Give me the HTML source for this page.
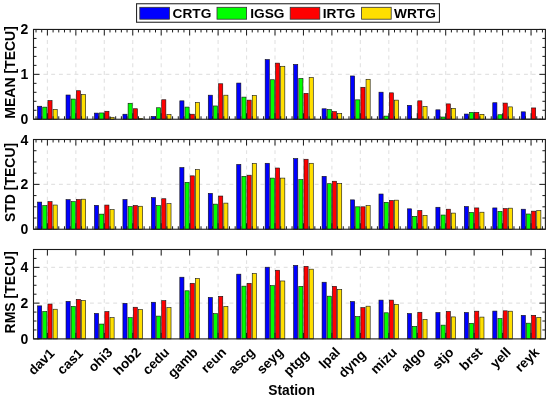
<!DOCTYPE html>
<html><head><meta charset="utf-8"><style>html,body{margin:0;padding:0;background:#fff;overflow:hidden;}svg{display:block;}</style></head>
<body>
<svg width="550" height="401" viewBox="0 0 550 401">
<rect width="550" height="401" fill="#fff"/>
<path d="M47.40,29.45V119.25M75.85,29.45V119.25M104.30,29.45V119.25M132.75,29.45V119.25M161.20,29.45V119.25M189.65,29.45V119.25M218.10,29.45V119.25M246.55,29.45V119.25M275.00,29.45V119.25M303.45,29.45V119.25M331.90,29.45V119.25M360.35,29.45V119.25M388.80,29.45V119.25M417.25,29.45V119.25M445.70,29.45V119.25M474.15,29.45V119.25M502.60,29.45V119.25M531.05,29.45V119.25" stroke="#e3e3e3" stroke-width="1.15" stroke-dasharray="3.9,3.85" stroke-dashoffset="4.85" fill="none"/>
<path d="M33.50,74.35H545.40" stroke="#e3e3e3" stroke-width="1.15" stroke-dasharray="3.9,3.85" stroke-dashoffset="5.55" fill="none"/>
<rect x="37.57" y="106.23" width="4.14" height="13.02" fill="#0000ff" stroke="#111" stroke-width="0.6"/>
<rect x="42.74" y="107.13" width="4.14" height="12.12" fill="#00ff00" stroke="#111" stroke-width="0.6"/>
<rect x="47.92" y="100.57" width="4.14" height="18.68" fill="#ff0000" stroke="#111" stroke-width="0.6"/>
<rect x="53.09" y="109.37" width="4.14" height="9.88" fill="#ffdf00" stroke="#111" stroke-width="0.6"/>
<rect x="66.02" y="95.00" width="4.14" height="24.25" fill="#0000ff" stroke="#111" stroke-width="0.6"/>
<rect x="71.19" y="99.05" width="4.14" height="20.20" fill="#00ff00" stroke="#111" stroke-width="0.6"/>
<rect x="76.37" y="90.74" width="4.14" height="28.51" fill="#ff0000" stroke="#111" stroke-width="0.6"/>
<rect x="81.54" y="94.56" width="4.14" height="24.69" fill="#ffdf00" stroke="#111" stroke-width="0.6"/>
<rect x="94.47" y="113.10" width="4.14" height="6.15" fill="#0000ff" stroke="#111" stroke-width="0.6"/>
<rect x="99.64" y="112.96" width="4.14" height="6.29" fill="#00ff00" stroke="#111" stroke-width="0.6"/>
<rect x="104.82" y="111.26" width="4.14" height="7.99" fill="#ff0000" stroke="#111" stroke-width="0.6"/>
<rect x="109.99" y="117.27" width="4.14" height="1.98" fill="#ffdf00" stroke="#111" stroke-width="0.6"/>
<rect x="122.92" y="114.22" width="4.14" height="5.03" fill="#0000ff" stroke="#111" stroke-width="0.6"/>
<rect x="128.09" y="103.27" width="4.14" height="15.98" fill="#00ff00" stroke="#111" stroke-width="0.6"/>
<rect x="133.27" y="108.74" width="4.14" height="10.51" fill="#ff0000" stroke="#111" stroke-width="0.6"/>
<rect x="138.44" y="118.35" width="4.14" height="0.90" fill="#ffdf00" stroke="#111" stroke-width="0.6"/>
<rect x="151.37" y="116.42" width="4.14" height="2.83" fill="#0000ff" stroke="#111" stroke-width="0.6"/>
<rect x="156.54" y="107.76" width="4.14" height="11.49" fill="#00ff00" stroke="#111" stroke-width="0.6"/>
<rect x="161.72" y="99.76" width="4.14" height="19.49" fill="#ff0000" stroke="#111" stroke-width="0.6"/>
<rect x="166.89" y="114.54" width="4.14" height="4.71" fill="#ffdf00" stroke="#111" stroke-width="0.6"/>
<rect x="179.82" y="100.84" width="4.14" height="18.41" fill="#0000ff" stroke="#111" stroke-width="0.6"/>
<rect x="184.99" y="107.08" width="4.14" height="12.17" fill="#00ff00" stroke="#111" stroke-width="0.6"/>
<rect x="190.17" y="114.22" width="4.14" height="5.03" fill="#ff0000" stroke="#111" stroke-width="0.6"/>
<rect x="195.34" y="102.50" width="4.14" height="16.75" fill="#ffdf00" stroke="#111" stroke-width="0.6"/>
<rect x="208.27" y="95.18" width="4.14" height="24.07" fill="#0000ff" stroke="#111" stroke-width="0.6"/>
<rect x="213.44" y="105.96" width="4.14" height="13.29" fill="#00ff00" stroke="#111" stroke-width="0.6"/>
<rect x="218.62" y="83.78" width="4.14" height="35.47" fill="#ff0000" stroke="#111" stroke-width="0.6"/>
<rect x="223.79" y="95.18" width="4.14" height="24.07" fill="#ffdf00" stroke="#111" stroke-width="0.6"/>
<rect x="236.72" y="83.06" width="4.14" height="36.19" fill="#0000ff" stroke="#111" stroke-width="0.6"/>
<rect x="241.89" y="97.11" width="4.14" height="22.14" fill="#00ff00" stroke="#111" stroke-width="0.6"/>
<rect x="247.07" y="100.12" width="4.14" height="19.13" fill="#ff0000" stroke="#111" stroke-width="0.6"/>
<rect x="252.24" y="95.45" width="4.14" height="23.80" fill="#ffdf00" stroke="#111" stroke-width="0.6"/>
<rect x="265.17" y="59.53" width="4.14" height="59.72" fill="#0000ff" stroke="#111" stroke-width="0.6"/>
<rect x="270.34" y="79.74" width="4.14" height="39.51" fill="#00ff00" stroke="#111" stroke-width="0.6"/>
<rect x="275.52" y="63.12" width="4.14" height="56.12" fill="#ff0000" stroke="#111" stroke-width="0.6"/>
<rect x="280.69" y="66.27" width="4.14" height="52.98" fill="#ffdf00" stroke="#111" stroke-width="0.6"/>
<rect x="293.62" y="64.47" width="4.14" height="54.78" fill="#0000ff" stroke="#111" stroke-width="0.6"/>
<rect x="298.79" y="78.39" width="4.14" height="40.86" fill="#00ff00" stroke="#111" stroke-width="0.6"/>
<rect x="303.97" y="93.34" width="4.14" height="25.91" fill="#ff0000" stroke="#111" stroke-width="0.6"/>
<rect x="309.14" y="77.49" width="4.14" height="41.76" fill="#ffdf00" stroke="#111" stroke-width="0.6"/>
<rect x="322.07" y="108.79" width="4.14" height="10.46" fill="#0000ff" stroke="#111" stroke-width="0.6"/>
<rect x="327.24" y="109.55" width="4.14" height="9.70" fill="#00ff00" stroke="#111" stroke-width="0.6"/>
<rect x="332.42" y="111.62" width="4.14" height="7.63" fill="#ff0000" stroke="#111" stroke-width="0.6"/>
<rect x="337.59" y="113.46" width="4.14" height="5.79" fill="#ffdf00" stroke="#111" stroke-width="0.6"/>
<rect x="350.52" y="75.97" width="4.14" height="43.28" fill="#0000ff" stroke="#111" stroke-width="0.6"/>
<rect x="355.69" y="99.85" width="4.14" height="19.40" fill="#00ff00" stroke="#111" stroke-width="0.6"/>
<rect x="360.87" y="87.28" width="4.14" height="31.97" fill="#ff0000" stroke="#111" stroke-width="0.6"/>
<rect x="366.04" y="79.29" width="4.14" height="39.96" fill="#ffdf00" stroke="#111" stroke-width="0.6"/>
<rect x="378.97" y="92.18" width="4.14" height="27.07" fill="#0000ff" stroke="#111" stroke-width="0.6"/>
<rect x="384.14" y="116.11" width="4.14" height="3.14" fill="#00ff00" stroke="#111" stroke-width="0.6"/>
<rect x="389.32" y="92.85" width="4.14" height="26.40" fill="#ff0000" stroke="#111" stroke-width="0.6"/>
<rect x="394.49" y="100.12" width="4.14" height="19.13" fill="#ffdf00" stroke="#111" stroke-width="0.6"/>
<rect x="407.42" y="105.33" width="4.14" height="13.92" fill="#0000ff" stroke="#111" stroke-width="0.6"/>
<rect x="412.59" y="118.80" width="4.14" height="0.45" fill="#00ff00" stroke="#111" stroke-width="0.6"/>
<rect x="417.77" y="100.84" width="4.14" height="18.41" fill="#ff0000" stroke="#111" stroke-width="0.6"/>
<rect x="422.94" y="106.50" width="4.14" height="12.75" fill="#ffdf00" stroke="#111" stroke-width="0.6"/>
<rect x="435.87" y="109.82" width="4.14" height="9.43" fill="#0000ff" stroke="#111" stroke-width="0.6"/>
<rect x="441.04" y="117.00" width="4.14" height="2.25" fill="#00ff00" stroke="#111" stroke-width="0.6"/>
<rect x="446.22" y="103.89" width="4.14" height="15.36" fill="#ff0000" stroke="#111" stroke-width="0.6"/>
<rect x="451.39" y="108.34" width="4.14" height="10.91" fill="#ffdf00" stroke="#111" stroke-width="0.6"/>
<rect x="464.32" y="114.04" width="4.14" height="5.21" fill="#0000ff" stroke="#111" stroke-width="0.6"/>
<rect x="469.49" y="112.34" width="4.14" height="6.91" fill="#00ff00" stroke="#111" stroke-width="0.6"/>
<rect x="474.67" y="112.34" width="4.14" height="6.91" fill="#ff0000" stroke="#111" stroke-width="0.6"/>
<rect x="479.84" y="114.31" width="4.14" height="4.94" fill="#ffdf00" stroke="#111" stroke-width="0.6"/>
<rect x="492.77" y="102.73" width="4.14" height="16.52" fill="#0000ff" stroke="#111" stroke-width="0.6"/>
<rect x="497.94" y="114.76" width="4.14" height="4.49" fill="#00ff00" stroke="#111" stroke-width="0.6"/>
<rect x="503.12" y="103.09" width="4.14" height="16.16" fill="#ff0000" stroke="#111" stroke-width="0.6"/>
<rect x="508.29" y="106.90" width="4.14" height="12.35" fill="#ffdf00" stroke="#111" stroke-width="0.6"/>
<rect x="521.22" y="111.84" width="4.14" height="7.41" fill="#0000ff" stroke="#111" stroke-width="0.6"/>
<rect x="526.39" y="119.03" width="4.14" height="0.22" fill="#00ff00" stroke="#111" stroke-width="0.6"/>
<rect x="531.57" y="107.94" width="4.14" height="11.31" fill="#ff0000" stroke="#111" stroke-width="0.6"/>
<rect x="536.74" y="119.03" width="4.14" height="0.22" fill="#ffdf00" stroke="#111" stroke-width="0.6"/>
<path d="M47.40,119.25v-6.0M47.40,29.45v6.0M75.85,119.25v-6.0M75.85,29.45v6.0M104.30,119.25v-6.0M104.30,29.45v6.0M132.75,119.25v-6.0M132.75,29.45v6.0M161.20,119.25v-6.0M161.20,29.45v6.0M189.65,119.25v-6.0M189.65,29.45v6.0M218.10,119.25v-6.0M218.10,29.45v6.0M246.55,119.25v-6.0M246.55,29.45v6.0M275.00,119.25v-6.0M275.00,29.45v6.0M303.45,119.25v-6.0M303.45,29.45v6.0M331.90,119.25v-6.0M331.90,29.45v6.0M360.35,119.25v-6.0M360.35,29.45v6.0M388.80,119.25v-6.0M388.80,29.45v6.0M417.25,119.25v-6.0M417.25,29.45v6.0M445.70,119.25v-6.0M445.70,29.45v6.0M474.15,119.25v-6.0M474.15,29.45v6.0M502.60,119.25v-6.0M502.60,29.45v6.0M531.05,119.25v-6.0M531.05,29.45v6.0M36.02,119.25v-3.0M36.02,29.45v3.0M41.71,119.25v-3.0M41.71,29.45v3.0M53.09,119.25v-3.0M53.09,29.45v3.0M58.78,119.25v-3.0M58.78,29.45v3.0M64.47,119.25v-3.0M64.47,29.45v3.0M70.16,119.25v-3.0M70.16,29.45v3.0M81.54,119.25v-3.0M81.54,29.45v3.0M87.23,119.25v-3.0M87.23,29.45v3.0M92.92,119.25v-3.0M92.92,29.45v3.0M98.61,119.25v-3.0M98.61,29.45v3.0M109.99,119.25v-3.0M109.99,29.45v3.0M115.68,119.25v-3.0M115.68,29.45v3.0M121.37,119.25v-3.0M121.37,29.45v3.0M127.06,119.25v-3.0M127.06,29.45v3.0M138.44,119.25v-3.0M138.44,29.45v3.0M144.13,119.25v-3.0M144.13,29.45v3.0M149.82,119.25v-3.0M149.82,29.45v3.0M155.51,119.25v-3.0M155.51,29.45v3.0M166.89,119.25v-3.0M166.89,29.45v3.0M172.58,119.25v-3.0M172.58,29.45v3.0M178.27,119.25v-3.0M178.27,29.45v3.0M183.96,119.25v-3.0M183.96,29.45v3.0M195.34,119.25v-3.0M195.34,29.45v3.0M201.03,119.25v-3.0M201.03,29.45v3.0M206.72,119.25v-3.0M206.72,29.45v3.0M212.41,119.25v-3.0M212.41,29.45v3.0M223.79,119.25v-3.0M223.79,29.45v3.0M229.48,119.25v-3.0M229.48,29.45v3.0M235.17,119.25v-3.0M235.17,29.45v3.0M240.86,119.25v-3.0M240.86,29.45v3.0M252.24,119.25v-3.0M252.24,29.45v3.0M257.93,119.25v-3.0M257.93,29.45v3.0M263.62,119.25v-3.0M263.62,29.45v3.0M269.31,119.25v-3.0M269.31,29.45v3.0M280.69,119.25v-3.0M280.69,29.45v3.0M286.38,119.25v-3.0M286.38,29.45v3.0M292.07,119.25v-3.0M292.07,29.45v3.0M297.76,119.25v-3.0M297.76,29.45v3.0M309.14,119.25v-3.0M309.14,29.45v3.0M314.83,119.25v-3.0M314.83,29.45v3.0M320.52,119.25v-3.0M320.52,29.45v3.0M326.21,119.25v-3.0M326.21,29.45v3.0M337.59,119.25v-3.0M337.59,29.45v3.0M343.28,119.25v-3.0M343.28,29.45v3.0M348.97,119.25v-3.0M348.97,29.45v3.0M354.66,119.25v-3.0M354.66,29.45v3.0M366.04,119.25v-3.0M366.04,29.45v3.0M371.73,119.25v-3.0M371.73,29.45v3.0M377.42,119.25v-3.0M377.42,29.45v3.0M383.11,119.25v-3.0M383.11,29.45v3.0M394.49,119.25v-3.0M394.49,29.45v3.0M400.18,119.25v-3.0M400.18,29.45v3.0M405.87,119.25v-3.0M405.87,29.45v3.0M411.56,119.25v-3.0M411.56,29.45v3.0M422.94,119.25v-3.0M422.94,29.45v3.0M428.63,119.25v-3.0M428.63,29.45v3.0M434.32,119.25v-3.0M434.32,29.45v3.0M440.01,119.25v-3.0M440.01,29.45v3.0M451.39,119.25v-3.0M451.39,29.45v3.0M457.08,119.25v-3.0M457.08,29.45v3.0M462.77,119.25v-3.0M462.77,29.45v3.0M468.46,119.25v-3.0M468.46,29.45v3.0M479.84,119.25v-3.0M479.84,29.45v3.0M485.53,119.25v-3.0M485.53,29.45v3.0M491.22,119.25v-3.0M491.22,29.45v3.0M496.91,119.25v-3.0M496.91,29.45v3.0M508.29,119.25v-3.0M508.29,29.45v3.0M513.98,119.25v-3.0M513.98,29.45v3.0M519.67,119.25v-3.0M519.67,29.45v3.0M525.36,119.25v-3.0M525.36,29.45v3.0M536.74,119.25v-3.0M536.74,29.45v3.0M542.43,119.25v-3.0M542.43,29.45v3.0M33.50,119.25h6.0M545.40,119.25h-6.0M33.50,74.35h6.0M545.40,74.35h-6.0M33.50,29.45h6.0M545.40,29.45h-6.0M33.50,110.27h3.0M545.40,110.27h-3.0M33.50,101.29h3.0M545.40,101.29h-3.0M33.50,92.31h3.0M545.40,92.31h-3.0M33.50,83.33h3.0M545.40,83.33h-3.0M33.50,65.37h3.0M545.40,65.37h-3.0M33.50,56.39h3.0M545.40,56.39h-3.0M33.50,47.41h3.0M545.40,47.41h-3.0M33.50,38.43h3.0M545.40,38.43h-3.0" stroke="#1a1a1a" stroke-width="1" fill="none"/>
<rect x="33.50" y="29.45" width="511.90" height="89.80" fill="none" stroke="#1a1a1a" stroke-width="1.1"/>
<text x="28.4" y="124.25" text-anchor="end" font-size="14" font-family="Liberation Sans, Arial, sans-serif" font-weight="bold" fill="#000">0</text>
<text x="28.4" y="79.35" text-anchor="end" font-size="14" font-family="Liberation Sans, Arial, sans-serif" font-weight="bold" fill="#000">1</text>
<text x="28.4" y="34.45" text-anchor="end" font-size="14" font-family="Liberation Sans, Arial, sans-serif" font-weight="bold" fill="#000">2</text>
<text transform="translate(15.2,72.40) rotate(-90)" text-anchor="middle" font-size="14" font-family="Liberation Sans, Arial, sans-serif" font-weight="bold" fill="#000">MEAN [TECU]</text>
<path d="M47.40,139.50V229.25M75.85,139.50V229.25M104.30,139.50V229.25M132.75,139.50V229.25M161.20,139.50V229.25M189.65,139.50V229.25M218.10,139.50V229.25M246.55,139.50V229.25M275.00,139.50V229.25M303.45,139.50V229.25M331.90,139.50V229.25M360.35,139.50V229.25M388.80,139.50V229.25M417.25,139.50V229.25M445.70,139.50V229.25M474.15,139.50V229.25M502.60,139.50V229.25M531.05,139.50V229.25" stroke="#e3e3e3" stroke-width="1.15" stroke-dasharray="3.9,3.85" stroke-dashoffset="4.85" fill="none"/>
<path d="M33.50,184.38H545.40" stroke="#e3e3e3" stroke-width="1.15" stroke-dasharray="3.9,3.85" stroke-dashoffset="5.55" fill="none"/>
<rect x="37.57" y="202.10" width="4.14" height="27.15" fill="#0000ff" stroke="#111" stroke-width="0.6"/>
<rect x="42.74" y="205.58" width="4.14" height="23.67" fill="#00ff00" stroke="#111" stroke-width="0.6"/>
<rect x="47.92" y="201.65" width="4.14" height="27.60" fill="#ff0000" stroke="#111" stroke-width="0.6"/>
<rect x="53.09" y="205.02" width="4.14" height="24.23" fill="#ffdf00" stroke="#111" stroke-width="0.6"/>
<rect x="66.02" y="199.63" width="4.14" height="29.62" fill="#0000ff" stroke="#111" stroke-width="0.6"/>
<rect x="71.19" y="201.65" width="4.14" height="27.60" fill="#00ff00" stroke="#111" stroke-width="0.6"/>
<rect x="76.37" y="199.50" width="4.14" height="29.75" fill="#ff0000" stroke="#111" stroke-width="0.6"/>
<rect x="81.54" y="199.18" width="4.14" height="30.07" fill="#ffdf00" stroke="#111" stroke-width="0.6"/>
<rect x="94.47" y="205.33" width="4.14" height="23.92" fill="#0000ff" stroke="#111" stroke-width="0.6"/>
<rect x="99.64" y="214.13" width="4.14" height="15.12" fill="#00ff00" stroke="#111" stroke-width="0.6"/>
<rect x="104.82" y="205.06" width="4.14" height="24.19" fill="#ff0000" stroke="#111" stroke-width="0.6"/>
<rect x="109.99" y="209.59" width="4.14" height="19.66" fill="#ffdf00" stroke="#111" stroke-width="0.6"/>
<rect x="122.92" y="199.50" width="4.14" height="29.75" fill="#0000ff" stroke="#111" stroke-width="0.6"/>
<rect x="128.09" y="206.61" width="4.14" height="22.64" fill="#00ff00" stroke="#111" stroke-width="0.6"/>
<rect x="133.27" y="205.47" width="4.14" height="23.78" fill="#ff0000" stroke="#111" stroke-width="0.6"/>
<rect x="138.44" y="206.23" width="4.14" height="23.02" fill="#ffdf00" stroke="#111" stroke-width="0.6"/>
<rect x="151.37" y="197.61" width="4.14" height="31.64" fill="#0000ff" stroke="#111" stroke-width="0.6"/>
<rect x="156.54" y="205.58" width="4.14" height="23.67" fill="#00ff00" stroke="#111" stroke-width="0.6"/>
<rect x="161.72" y="198.74" width="4.14" height="30.51" fill="#ff0000" stroke="#111" stroke-width="0.6"/>
<rect x="166.89" y="203.67" width="4.14" height="25.58" fill="#ffdf00" stroke="#111" stroke-width="0.6"/>
<rect x="179.82" y="167.55" width="4.14" height="61.70" fill="#0000ff" stroke="#111" stroke-width="0.6"/>
<rect x="184.99" y="182.36" width="4.14" height="46.89" fill="#00ff00" stroke="#111" stroke-width="0.6"/>
<rect x="190.17" y="175.85" width="4.14" height="53.40" fill="#ff0000" stroke="#111" stroke-width="0.6"/>
<rect x="195.34" y="169.57" width="4.14" height="59.68" fill="#ffdf00" stroke="#111" stroke-width="0.6"/>
<rect x="208.27" y="193.35" width="4.14" height="35.90" fill="#0000ff" stroke="#111" stroke-width="0.6"/>
<rect x="213.44" y="204.12" width="4.14" height="25.13" fill="#00ff00" stroke="#111" stroke-width="0.6"/>
<rect x="218.62" y="196.04" width="4.14" height="33.21" fill="#ff0000" stroke="#111" stroke-width="0.6"/>
<rect x="223.79" y="203.11" width="4.14" height="26.14" fill="#ffdf00" stroke="#111" stroke-width="0.6"/>
<rect x="236.72" y="164.41" width="4.14" height="64.84" fill="#0000ff" stroke="#111" stroke-width="0.6"/>
<rect x="241.89" y="176.30" width="4.14" height="52.95" fill="#00ff00" stroke="#111" stroke-width="0.6"/>
<rect x="247.07" y="175.18" width="4.14" height="54.07" fill="#ff0000" stroke="#111" stroke-width="0.6"/>
<rect x="252.24" y="163.51" width="4.14" height="65.74" fill="#ffdf00" stroke="#111" stroke-width="0.6"/>
<rect x="265.17" y="163.28" width="4.14" height="65.97" fill="#0000ff" stroke="#111" stroke-width="0.6"/>
<rect x="270.34" y="178.09" width="4.14" height="51.16" fill="#00ff00" stroke="#111" stroke-width="0.6"/>
<rect x="275.52" y="168.00" width="4.14" height="61.25" fill="#ff0000" stroke="#111" stroke-width="0.6"/>
<rect x="280.69" y="178.09" width="4.14" height="51.16" fill="#ffdf00" stroke="#111" stroke-width="0.6"/>
<rect x="293.62" y="158.57" width="4.14" height="70.68" fill="#0000ff" stroke="#111" stroke-width="0.6"/>
<rect x="298.79" y="179.66" width="4.14" height="49.59" fill="#00ff00" stroke="#111" stroke-width="0.6"/>
<rect x="303.97" y="159.25" width="4.14" height="70.00" fill="#ff0000" stroke="#111" stroke-width="0.6"/>
<rect x="309.14" y="163.28" width="4.14" height="65.97" fill="#ffdf00" stroke="#111" stroke-width="0.6"/>
<rect x="322.07" y="176.30" width="4.14" height="52.95" fill="#0000ff" stroke="#111" stroke-width="0.6"/>
<rect x="327.24" y="183.70" width="4.14" height="45.55" fill="#00ff00" stroke="#111" stroke-width="0.6"/>
<rect x="332.42" y="181.23" width="4.14" height="48.02" fill="#ff0000" stroke="#111" stroke-width="0.6"/>
<rect x="337.59" y="183.48" width="4.14" height="45.77" fill="#ffdf00" stroke="#111" stroke-width="0.6"/>
<rect x="350.52" y="199.86" width="4.14" height="29.39" fill="#0000ff" stroke="#111" stroke-width="0.6"/>
<rect x="355.69" y="206.81" width="4.14" height="22.44" fill="#00ff00" stroke="#111" stroke-width="0.6"/>
<rect x="360.87" y="206.81" width="4.14" height="22.44" fill="#ff0000" stroke="#111" stroke-width="0.6"/>
<rect x="366.04" y="205.58" width="4.14" height="23.67" fill="#ffdf00" stroke="#111" stroke-width="0.6"/>
<rect x="378.97" y="194.02" width="4.14" height="35.23" fill="#0000ff" stroke="#111" stroke-width="0.6"/>
<rect x="384.14" y="202.32" width="4.14" height="26.93" fill="#00ff00" stroke="#111" stroke-width="0.6"/>
<rect x="389.32" y="200.42" width="4.14" height="28.83" fill="#ff0000" stroke="#111" stroke-width="0.6"/>
<rect x="394.49" y="200.15" width="4.14" height="29.10" fill="#ffdf00" stroke="#111" stroke-width="0.6"/>
<rect x="407.42" y="208.83" width="4.14" height="20.42" fill="#0000ff" stroke="#111" stroke-width="0.6"/>
<rect x="412.59" y="216.33" width="4.14" height="12.92" fill="#00ff00" stroke="#111" stroke-width="0.6"/>
<rect x="417.77" y="210.49" width="4.14" height="18.76" fill="#ff0000" stroke="#111" stroke-width="0.6"/>
<rect x="422.94" y="215.34" width="4.14" height="13.91" fill="#ffdf00" stroke="#111" stroke-width="0.6"/>
<rect x="435.87" y="207.26" width="4.14" height="21.99" fill="#0000ff" stroke="#111" stroke-width="0.6"/>
<rect x="441.04" y="215.02" width="4.14" height="14.23" fill="#00ff00" stroke="#111" stroke-width="0.6"/>
<rect x="446.22" y="209.21" width="4.14" height="20.04" fill="#ff0000" stroke="#111" stroke-width="0.6"/>
<rect x="451.39" y="213.09" width="4.14" height="16.16" fill="#ffdf00" stroke="#111" stroke-width="0.6"/>
<rect x="464.32" y="206.50" width="4.14" height="22.75" fill="#0000ff" stroke="#111" stroke-width="0.6"/>
<rect x="469.49" y="212.42" width="4.14" height="16.83" fill="#00ff00" stroke="#111" stroke-width="0.6"/>
<rect x="474.67" y="207.93" width="4.14" height="21.32" fill="#ff0000" stroke="#111" stroke-width="0.6"/>
<rect x="479.84" y="212.20" width="4.14" height="17.05" fill="#ffdf00" stroke="#111" stroke-width="0.6"/>
<rect x="492.77" y="207.93" width="4.14" height="21.32" fill="#0000ff" stroke="#111" stroke-width="0.6"/>
<rect x="497.94" y="211.41" width="4.14" height="17.84" fill="#00ff00" stroke="#111" stroke-width="0.6"/>
<rect x="503.12" y="208.56" width="4.14" height="20.69" fill="#ff0000" stroke="#111" stroke-width="0.6"/>
<rect x="508.29" y="208.16" width="4.14" height="21.09" fill="#ffdf00" stroke="#111" stroke-width="0.6"/>
<rect x="521.22" y="209.21" width="4.14" height="20.04" fill="#0000ff" stroke="#111" stroke-width="0.6"/>
<rect x="526.39" y="213.99" width="4.14" height="15.26" fill="#00ff00" stroke="#111" stroke-width="0.6"/>
<rect x="531.57" y="211.14" width="4.14" height="18.11" fill="#ff0000" stroke="#111" stroke-width="0.6"/>
<rect x="536.74" y="210.63" width="4.14" height="18.62" fill="#ffdf00" stroke="#111" stroke-width="0.6"/>
<path d="M47.40,229.25v-6.0M47.40,139.50v6.0M75.85,229.25v-6.0M75.85,139.50v6.0M104.30,229.25v-6.0M104.30,139.50v6.0M132.75,229.25v-6.0M132.75,139.50v6.0M161.20,229.25v-6.0M161.20,139.50v6.0M189.65,229.25v-6.0M189.65,139.50v6.0M218.10,229.25v-6.0M218.10,139.50v6.0M246.55,229.25v-6.0M246.55,139.50v6.0M275.00,229.25v-6.0M275.00,139.50v6.0M303.45,229.25v-6.0M303.45,139.50v6.0M331.90,229.25v-6.0M331.90,139.50v6.0M360.35,229.25v-6.0M360.35,139.50v6.0M388.80,229.25v-6.0M388.80,139.50v6.0M417.25,229.25v-6.0M417.25,139.50v6.0M445.70,229.25v-6.0M445.70,139.50v6.0M474.15,229.25v-6.0M474.15,139.50v6.0M502.60,229.25v-6.0M502.60,139.50v6.0M531.05,229.25v-6.0M531.05,139.50v6.0M36.02,229.25v-3.0M36.02,139.50v3.0M41.71,229.25v-3.0M41.71,139.50v3.0M53.09,229.25v-3.0M53.09,139.50v3.0M58.78,229.25v-3.0M58.78,139.50v3.0M64.47,229.25v-3.0M64.47,139.50v3.0M70.16,229.25v-3.0M70.16,139.50v3.0M81.54,229.25v-3.0M81.54,139.50v3.0M87.23,229.25v-3.0M87.23,139.50v3.0M92.92,229.25v-3.0M92.92,139.50v3.0M98.61,229.25v-3.0M98.61,139.50v3.0M109.99,229.25v-3.0M109.99,139.50v3.0M115.68,229.25v-3.0M115.68,139.50v3.0M121.37,229.25v-3.0M121.37,139.50v3.0M127.06,229.25v-3.0M127.06,139.50v3.0M138.44,229.25v-3.0M138.44,139.50v3.0M144.13,229.25v-3.0M144.13,139.50v3.0M149.82,229.25v-3.0M149.82,139.50v3.0M155.51,229.25v-3.0M155.51,139.50v3.0M166.89,229.25v-3.0M166.89,139.50v3.0M172.58,229.25v-3.0M172.58,139.50v3.0M178.27,229.25v-3.0M178.27,139.50v3.0M183.96,229.25v-3.0M183.96,139.50v3.0M195.34,229.25v-3.0M195.34,139.50v3.0M201.03,229.25v-3.0M201.03,139.50v3.0M206.72,229.25v-3.0M206.72,139.50v3.0M212.41,229.25v-3.0M212.41,139.50v3.0M223.79,229.25v-3.0M223.79,139.50v3.0M229.48,229.25v-3.0M229.48,139.50v3.0M235.17,229.25v-3.0M235.17,139.50v3.0M240.86,229.25v-3.0M240.86,139.50v3.0M252.24,229.25v-3.0M252.24,139.50v3.0M257.93,229.25v-3.0M257.93,139.50v3.0M263.62,229.25v-3.0M263.62,139.50v3.0M269.31,229.25v-3.0M269.31,139.50v3.0M280.69,229.25v-3.0M280.69,139.50v3.0M286.38,229.25v-3.0M286.38,139.50v3.0M292.07,229.25v-3.0M292.07,139.50v3.0M297.76,229.25v-3.0M297.76,139.50v3.0M309.14,229.25v-3.0M309.14,139.50v3.0M314.83,229.25v-3.0M314.83,139.50v3.0M320.52,229.25v-3.0M320.52,139.50v3.0M326.21,229.25v-3.0M326.21,139.50v3.0M337.59,229.25v-3.0M337.59,139.50v3.0M343.28,229.25v-3.0M343.28,139.50v3.0M348.97,229.25v-3.0M348.97,139.50v3.0M354.66,229.25v-3.0M354.66,139.50v3.0M366.04,229.25v-3.0M366.04,139.50v3.0M371.73,229.25v-3.0M371.73,139.50v3.0M377.42,229.25v-3.0M377.42,139.50v3.0M383.11,229.25v-3.0M383.11,139.50v3.0M394.49,229.25v-3.0M394.49,139.50v3.0M400.18,229.25v-3.0M400.18,139.50v3.0M405.87,229.25v-3.0M405.87,139.50v3.0M411.56,229.25v-3.0M411.56,139.50v3.0M422.94,229.25v-3.0M422.94,139.50v3.0M428.63,229.25v-3.0M428.63,139.50v3.0M434.32,229.25v-3.0M434.32,139.50v3.0M440.01,229.25v-3.0M440.01,139.50v3.0M451.39,229.25v-3.0M451.39,139.50v3.0M457.08,229.25v-3.0M457.08,139.50v3.0M462.77,229.25v-3.0M462.77,139.50v3.0M468.46,229.25v-3.0M468.46,139.50v3.0M479.84,229.25v-3.0M479.84,139.50v3.0M485.53,229.25v-3.0M485.53,139.50v3.0M491.22,229.25v-3.0M491.22,139.50v3.0M496.91,229.25v-3.0M496.91,139.50v3.0M508.29,229.25v-3.0M508.29,139.50v3.0M513.98,229.25v-3.0M513.98,139.50v3.0M519.67,229.25v-3.0M519.67,139.50v3.0M525.36,229.25v-3.0M525.36,139.50v3.0M536.74,229.25v-3.0M536.74,139.50v3.0M542.43,229.25v-3.0M542.43,139.50v3.0M33.50,229.25h6.0M545.40,229.25h-6.0M33.50,184.38h6.0M545.40,184.38h-6.0M33.50,139.50h6.0M545.40,139.50h-6.0M33.50,218.03h3.0M545.40,218.03h-3.0M33.50,206.81h3.0M545.40,206.81h-3.0M33.50,195.59h3.0M545.40,195.59h-3.0M33.50,173.16h3.0M545.40,173.16h-3.0M33.50,161.94h3.0M545.40,161.94h-3.0M33.50,150.72h3.0M545.40,150.72h-3.0" stroke="#1a1a1a" stroke-width="1" fill="none"/>
<rect x="33.50" y="139.50" width="511.90" height="89.75" fill="none" stroke="#1a1a1a" stroke-width="1.1"/>
<text x="28.4" y="234.25" text-anchor="end" font-size="14" font-family="Liberation Sans, Arial, sans-serif" font-weight="bold" fill="#000">0</text>
<text x="28.4" y="189.38" text-anchor="end" font-size="14" font-family="Liberation Sans, Arial, sans-serif" font-weight="bold" fill="#000">2</text>
<text x="28.4" y="144.50" text-anchor="end" font-size="14" font-family="Liberation Sans, Arial, sans-serif" font-weight="bold" fill="#000">4</text>
<text transform="translate(15.2,182.43) rotate(-90)" text-anchor="middle" font-size="14" font-family="Liberation Sans, Arial, sans-serif" font-weight="bold" fill="#000">STD [TECU]</text>
<path d="M47.40,249.50V338.90M75.85,249.50V338.90M104.30,249.50V338.90M132.75,249.50V338.90M161.20,249.50V338.90M189.65,249.50V338.90M218.10,249.50V338.90M246.55,249.50V338.90M275.00,249.50V338.90M303.45,249.50V338.90M331.90,249.50V338.90M360.35,249.50V338.90M388.80,249.50V338.90M417.25,249.50V338.90M445.70,249.50V338.90M474.15,249.50V338.90M502.60,249.50V338.90M531.05,249.50V338.90" stroke="#e3e3e3" stroke-width="1.15" stroke-dasharray="3.9,3.85" stroke-dashoffset="4.85" fill="none"/>
<path d="M33.50,303.14H545.40M33.50,267.38H545.40" stroke="#e3e3e3" stroke-width="1.15" stroke-dasharray="3.9,3.85" stroke-dashoffset="5.55" fill="none"/>
<rect x="37.57" y="305.88" width="4.14" height="33.02" fill="#0000ff" stroke="#111" stroke-width="0.6"/>
<rect x="42.74" y="311.45" width="4.14" height="27.45" fill="#00ff00" stroke="#111" stroke-width="0.6"/>
<rect x="47.92" y="304.03" width="4.14" height="34.87" fill="#ff0000" stroke="#111" stroke-width="0.6"/>
<rect x="53.09" y="309.22" width="4.14" height="29.68" fill="#ffdf00" stroke="#111" stroke-width="0.6"/>
<rect x="66.02" y="301.35" width="4.14" height="37.55" fill="#0000ff" stroke="#111" stroke-width="0.6"/>
<rect x="71.19" y="306.36" width="4.14" height="32.54" fill="#00ff00" stroke="#111" stroke-width="0.6"/>
<rect x="76.37" y="299.39" width="4.14" height="39.51" fill="#ff0000" stroke="#111" stroke-width="0.6"/>
<rect x="81.54" y="300.46" width="4.14" height="38.44" fill="#ffdf00" stroke="#111" stroke-width="0.6"/>
<rect x="94.47" y="313.42" width="4.14" height="25.48" fill="#0000ff" stroke="#111" stroke-width="0.6"/>
<rect x="99.64" y="324.06" width="4.14" height="14.84" fill="#00ff00" stroke="#111" stroke-width="0.6"/>
<rect x="104.82" y="311.60" width="4.14" height="27.30" fill="#ff0000" stroke="#111" stroke-width="0.6"/>
<rect x="109.99" y="317.62" width="4.14" height="21.28" fill="#ffdf00" stroke="#111" stroke-width="0.6"/>
<rect x="122.92" y="303.32" width="4.14" height="35.58" fill="#0000ff" stroke="#111" stroke-width="0.6"/>
<rect x="128.09" y="317.62" width="4.14" height="21.28" fill="#00ff00" stroke="#111" stroke-width="0.6"/>
<rect x="133.27" y="307.25" width="4.14" height="31.65" fill="#ff0000" stroke="#111" stroke-width="0.6"/>
<rect x="138.44" y="309.58" width="4.14" height="29.32" fill="#ffdf00" stroke="#111" stroke-width="0.6"/>
<rect x="151.37" y="302.25" width="4.14" height="36.65" fill="#0000ff" stroke="#111" stroke-width="0.6"/>
<rect x="156.54" y="316.09" width="4.14" height="22.81" fill="#00ff00" stroke="#111" stroke-width="0.6"/>
<rect x="161.72" y="300.64" width="4.14" height="38.26" fill="#ff0000" stroke="#111" stroke-width="0.6"/>
<rect x="166.89" y="307.61" width="4.14" height="31.29" fill="#ffdf00" stroke="#111" stroke-width="0.6"/>
<rect x="179.82" y="277.21" width="4.14" height="61.69" fill="#0000ff" stroke="#111" stroke-width="0.6"/>
<rect x="184.99" y="290.80" width="4.14" height="48.10" fill="#00ff00" stroke="#111" stroke-width="0.6"/>
<rect x="190.17" y="283.29" width="4.14" height="55.61" fill="#ff0000" stroke="#111" stroke-width="0.6"/>
<rect x="195.34" y="278.47" width="4.14" height="60.43" fill="#ffdf00" stroke="#111" stroke-width="0.6"/>
<rect x="208.27" y="297.42" width="4.14" height="41.48" fill="#0000ff" stroke="#111" stroke-width="0.6"/>
<rect x="213.44" y="313.69" width="4.14" height="25.21" fill="#00ff00" stroke="#111" stroke-width="0.6"/>
<rect x="218.62" y="296.35" width="4.14" height="42.55" fill="#ff0000" stroke="#111" stroke-width="0.6"/>
<rect x="223.79" y="306.36" width="4.14" height="32.54" fill="#ffdf00" stroke="#111" stroke-width="0.6"/>
<rect x="236.72" y="274.17" width="4.14" height="64.73" fill="#0000ff" stroke="#111" stroke-width="0.6"/>
<rect x="241.89" y="286.15" width="4.14" height="52.75" fill="#00ff00" stroke="#111" stroke-width="0.6"/>
<rect x="247.07" y="283.29" width="4.14" height="55.61" fill="#ff0000" stroke="#111" stroke-width="0.6"/>
<rect x="252.24" y="273.55" width="4.14" height="65.35" fill="#ffdf00" stroke="#111" stroke-width="0.6"/>
<rect x="265.17" y="267.20" width="4.14" height="71.70" fill="#0000ff" stroke="#111" stroke-width="0.6"/>
<rect x="270.34" y="285.62" width="4.14" height="53.28" fill="#00ff00" stroke="#111" stroke-width="0.6"/>
<rect x="275.52" y="270.24" width="4.14" height="68.66" fill="#ff0000" stroke="#111" stroke-width="0.6"/>
<rect x="280.69" y="280.97" width="4.14" height="57.93" fill="#ffdf00" stroke="#111" stroke-width="0.6"/>
<rect x="293.62" y="265.41" width="4.14" height="73.49" fill="#0000ff" stroke="#111" stroke-width="0.6"/>
<rect x="298.79" y="286.33" width="4.14" height="52.57" fill="#00ff00" stroke="#111" stroke-width="0.6"/>
<rect x="303.97" y="266.31" width="4.14" height="72.59" fill="#ff0000" stroke="#111" stroke-width="0.6"/>
<rect x="309.14" y="269.17" width="4.14" height="69.73" fill="#ffdf00" stroke="#111" stroke-width="0.6"/>
<rect x="322.07" y="282.22" width="4.14" height="56.68" fill="#0000ff" stroke="#111" stroke-width="0.6"/>
<rect x="327.24" y="296.17" width="4.14" height="42.73" fill="#00ff00" stroke="#111" stroke-width="0.6"/>
<rect x="332.42" y="286.33" width="4.14" height="52.57" fill="#ff0000" stroke="#111" stroke-width="0.6"/>
<rect x="337.59" y="289.37" width="4.14" height="49.53" fill="#ffdf00" stroke="#111" stroke-width="0.6"/>
<rect x="350.52" y="301.53" width="4.14" height="37.37" fill="#0000ff" stroke="#111" stroke-width="0.6"/>
<rect x="355.69" y="316.55" width="4.14" height="22.35" fill="#00ff00" stroke="#111" stroke-width="0.6"/>
<rect x="360.87" y="307.61" width="4.14" height="31.29" fill="#ff0000" stroke="#111" stroke-width="0.6"/>
<rect x="366.04" y="306.18" width="4.14" height="32.72" fill="#ffdf00" stroke="#111" stroke-width="0.6"/>
<rect x="378.97" y="300.10" width="4.14" height="38.80" fill="#0000ff" stroke="#111" stroke-width="0.6"/>
<rect x="384.14" y="312.80" width="4.14" height="26.10" fill="#00ff00" stroke="#111" stroke-width="0.6"/>
<rect x="389.32" y="300.10" width="4.14" height="38.80" fill="#ff0000" stroke="#111" stroke-width="0.6"/>
<rect x="394.49" y="304.30" width="4.14" height="34.60" fill="#ffdf00" stroke="#111" stroke-width="0.6"/>
<rect x="407.42" y="313.51" width="4.14" height="25.39" fill="#0000ff" stroke="#111" stroke-width="0.6"/>
<rect x="412.59" y="326.38" width="4.14" height="12.52" fill="#00ff00" stroke="#111" stroke-width="0.6"/>
<rect x="417.77" y="312.26" width="4.14" height="26.64" fill="#ff0000" stroke="#111" stroke-width="0.6"/>
<rect x="422.94" y="319.41" width="4.14" height="19.49" fill="#ffdf00" stroke="#111" stroke-width="0.6"/>
<rect x="435.87" y="312.51" width="4.14" height="26.39" fill="#0000ff" stroke="#111" stroke-width="0.6"/>
<rect x="441.04" y="325.13" width="4.14" height="13.77" fill="#00ff00" stroke="#111" stroke-width="0.6"/>
<rect x="446.22" y="311.45" width="4.14" height="27.45" fill="#ff0000" stroke="#111" stroke-width="0.6"/>
<rect x="451.39" y="316.91" width="4.14" height="21.99" fill="#ffdf00" stroke="#111" stroke-width="0.6"/>
<rect x="464.32" y="312.51" width="4.14" height="26.39" fill="#0000ff" stroke="#111" stroke-width="0.6"/>
<rect x="469.49" y="323.29" width="4.14" height="15.61" fill="#00ff00" stroke="#111" stroke-width="0.6"/>
<rect x="474.67" y="311.19" width="4.14" height="27.71" fill="#ff0000" stroke="#111" stroke-width="0.6"/>
<rect x="479.84" y="317.09" width="4.14" height="21.81" fill="#ffdf00" stroke="#111" stroke-width="0.6"/>
<rect x="492.77" y="311.08" width="4.14" height="27.82" fill="#0000ff" stroke="#111" stroke-width="0.6"/>
<rect x="497.94" y="318.61" width="4.14" height="20.29" fill="#00ff00" stroke="#111" stroke-width="0.6"/>
<rect x="503.12" y="310.83" width="4.14" height="28.07" fill="#ff0000" stroke="#111" stroke-width="0.6"/>
<rect x="508.29" y="311.19" width="4.14" height="27.71" fill="#ffdf00" stroke="#111" stroke-width="0.6"/>
<rect x="521.22" y="315.37" width="4.14" height="23.53" fill="#0000ff" stroke="#111" stroke-width="0.6"/>
<rect x="526.39" y="323.17" width="4.14" height="15.73" fill="#00ff00" stroke="#111" stroke-width="0.6"/>
<rect x="531.57" y="315.30" width="4.14" height="23.60" fill="#ff0000" stroke="#111" stroke-width="0.6"/>
<rect x="536.74" y="317.32" width="4.14" height="21.58" fill="#ffdf00" stroke="#111" stroke-width="0.6"/>
<path d="M47.40,338.90v-6.0M47.40,249.50v6.0M75.85,338.90v-6.0M75.85,249.50v6.0M104.30,338.90v-6.0M104.30,249.50v6.0M132.75,338.90v-6.0M132.75,249.50v6.0M161.20,338.90v-6.0M161.20,249.50v6.0M189.65,338.90v-6.0M189.65,249.50v6.0M218.10,338.90v-6.0M218.10,249.50v6.0M246.55,338.90v-6.0M246.55,249.50v6.0M275.00,338.90v-6.0M275.00,249.50v6.0M303.45,338.90v-6.0M303.45,249.50v6.0M331.90,338.90v-6.0M331.90,249.50v6.0M360.35,338.90v-6.0M360.35,249.50v6.0M388.80,338.90v-6.0M388.80,249.50v6.0M417.25,338.90v-6.0M417.25,249.50v6.0M445.70,338.90v-6.0M445.70,249.50v6.0M474.15,338.90v-6.0M474.15,249.50v6.0M502.60,338.90v-6.0M502.60,249.50v6.0M531.05,338.90v-6.0M531.05,249.50v6.0M33.50,338.90h6.0M545.40,338.90h-6.0M33.50,303.14h6.0M545.40,303.14h-6.0M33.50,267.38h6.0M545.40,267.38h-6.0M33.50,329.96h3.0M545.40,329.96h-3.0M33.50,321.02h3.0M545.40,321.02h-3.0M33.50,312.08h3.0M545.40,312.08h-3.0M33.50,294.20h3.0M545.40,294.20h-3.0M33.50,285.26h3.0M545.40,285.26h-3.0M33.50,276.32h3.0M545.40,276.32h-3.0M33.50,258.44h3.0M545.40,258.44h-3.0" stroke="#1a1a1a" stroke-width="1" fill="none"/>
<rect x="33.50" y="249.50" width="511.90" height="89.40" fill="none" stroke="#1a1a1a" stroke-width="1.1"/>
<text x="28.4" y="343.90" text-anchor="end" font-size="14" font-family="Liberation Sans, Arial, sans-serif" font-weight="bold" fill="#000">0</text>
<text x="28.4" y="308.14" text-anchor="end" font-size="14" font-family="Liberation Sans, Arial, sans-serif" font-weight="bold" fill="#000">2</text>
<text x="28.4" y="272.38" text-anchor="end" font-size="14" font-family="Liberation Sans, Arial, sans-serif" font-weight="bold" fill="#000">4</text>
<text transform="translate(15.2,292.25) rotate(-90)" text-anchor="middle" font-size="14" font-family="Liberation Sans, Arial, sans-serif" font-weight="bold" fill="#000">RMS [TECU]</text>
<text transform="translate(55.40,354.10) rotate(-45)" text-anchor="end" font-size="13.5" font-family="Liberation Sans, Arial, sans-serif" font-weight="bold" fill="#000">dav1</text>
<text transform="translate(83.85,354.10) rotate(-45)" text-anchor="end" font-size="13.5" font-family="Liberation Sans, Arial, sans-serif" font-weight="bold" fill="#000">cas1</text>
<text transform="translate(113.30,353.10) rotate(-45)" text-anchor="end" font-size="13.5" font-family="Liberation Sans, Arial, sans-serif" font-weight="bold" fill="#000">ohi3</text>
<text transform="translate(141.75,353.10) rotate(-45)" text-anchor="end" font-size="13.5" font-family="Liberation Sans, Arial, sans-serif" font-weight="bold" fill="#000">hob2</text>
<text transform="translate(170.20,353.10) rotate(-45)" text-anchor="end" font-size="13.5" font-family="Liberation Sans, Arial, sans-serif" font-weight="bold" fill="#000">cedu</text>
<text transform="translate(198.65,353.10) rotate(-45)" text-anchor="end" font-size="13.5" font-family="Liberation Sans, Arial, sans-serif" font-weight="bold" fill="#000">gamb</text>
<text transform="translate(227.10,353.10) rotate(-45)" text-anchor="end" font-size="13.5" font-family="Liberation Sans, Arial, sans-serif" font-weight="bold" fill="#000">reun</text>
<text transform="translate(255.55,353.10) rotate(-45)" text-anchor="end" font-size="13.5" font-family="Liberation Sans, Arial, sans-serif" font-weight="bold" fill="#000">ascg</text>
<text transform="translate(284.00,353.10) rotate(-45)" text-anchor="end" font-size="13.5" font-family="Liberation Sans, Arial, sans-serif" font-weight="bold" fill="#000">seyg</text>
<text transform="translate(309.80,355.75) rotate(-45)" text-anchor="end" font-size="13.5" font-family="Liberation Sans, Arial, sans-serif" font-weight="bold" fill="#000">ptgg</text>
<text transform="translate(340.90,353.10) rotate(-45)" text-anchor="end" font-size="13.5" font-family="Liberation Sans, Arial, sans-serif" font-weight="bold" fill="#000">lpal</text>
<text transform="translate(366.70,355.75) rotate(-45)" text-anchor="end" font-size="13.5" font-family="Liberation Sans, Arial, sans-serif" font-weight="bold" fill="#000">dyng</text>
<text transform="translate(397.80,353.10) rotate(-45)" text-anchor="end" font-size="13.5" font-family="Liberation Sans, Arial, sans-serif" font-weight="bold" fill="#000">mizu</text>
<text transform="translate(426.25,353.10) rotate(-45)" text-anchor="end" font-size="13.5" font-family="Liberation Sans, Arial, sans-serif" font-weight="bold" fill="#000">algo</text>
<text transform="translate(454.70,353.10) rotate(-45)" text-anchor="end" font-size="13.5" font-family="Liberation Sans, Arial, sans-serif" font-weight="bold" fill="#000">stjo</text>
<text transform="translate(483.15,353.10) rotate(-45)" text-anchor="end" font-size="13.5" font-family="Liberation Sans, Arial, sans-serif" font-weight="bold" fill="#000">brst</text>
<text transform="translate(511.60,353.10) rotate(-45)" text-anchor="end" font-size="13.5" font-family="Liberation Sans, Arial, sans-serif" font-weight="bold" fill="#000">yell</text>
<text transform="translate(540.05,353.10) rotate(-45)" text-anchor="end" font-size="13.5" font-family="Liberation Sans, Arial, sans-serif" font-weight="bold" fill="#000">reyk</text>
<text x="291.6" y="395.2" text-anchor="middle" font-size="13.8" font-family="Liberation Sans, Arial, sans-serif" font-weight="bold" fill="#000">Station</text>
<rect x="136.55" y="3.75" width="302.9" height="18.5" fill="#fff" stroke="#2a2a2a" stroke-width="1.1"/>
<rect x="139.80" y="7.3" width="29.6" height="11.9" fill="#0000ff" stroke="#333" stroke-width="0.8"/>
<text x="172.50" y="18.4" font-size="13.7" font-family="Liberation Sans, Arial, sans-serif" font-weight="bold" fill="#000">CRTG</text>
<rect x="217.00" y="7.3" width="29.6" height="11.9" fill="#00ff00" stroke="#333" stroke-width="0.8"/>
<text x="250.20" y="18.4" font-size="13.7" font-family="Liberation Sans, Arial, sans-serif" font-weight="bold" fill="#000">IGSG</text>
<rect x="290.20" y="7.3" width="29.6" height="11.9" fill="#ff0000" stroke="#333" stroke-width="0.8"/>
<text x="322.70" y="18.4" font-size="13.7" font-family="Liberation Sans, Arial, sans-serif" font-weight="bold" fill="#000">IRTG</text>
<rect x="361.60" y="7.3" width="29.6" height="11.9" fill="#ffdf00" stroke="#333" stroke-width="0.8"/>
<text x="394.00" y="18.4" font-size="13.7" font-family="Liberation Sans, Arial, sans-serif" font-weight="bold" fill="#000">WRTG</text>
</svg>
</body></html>
